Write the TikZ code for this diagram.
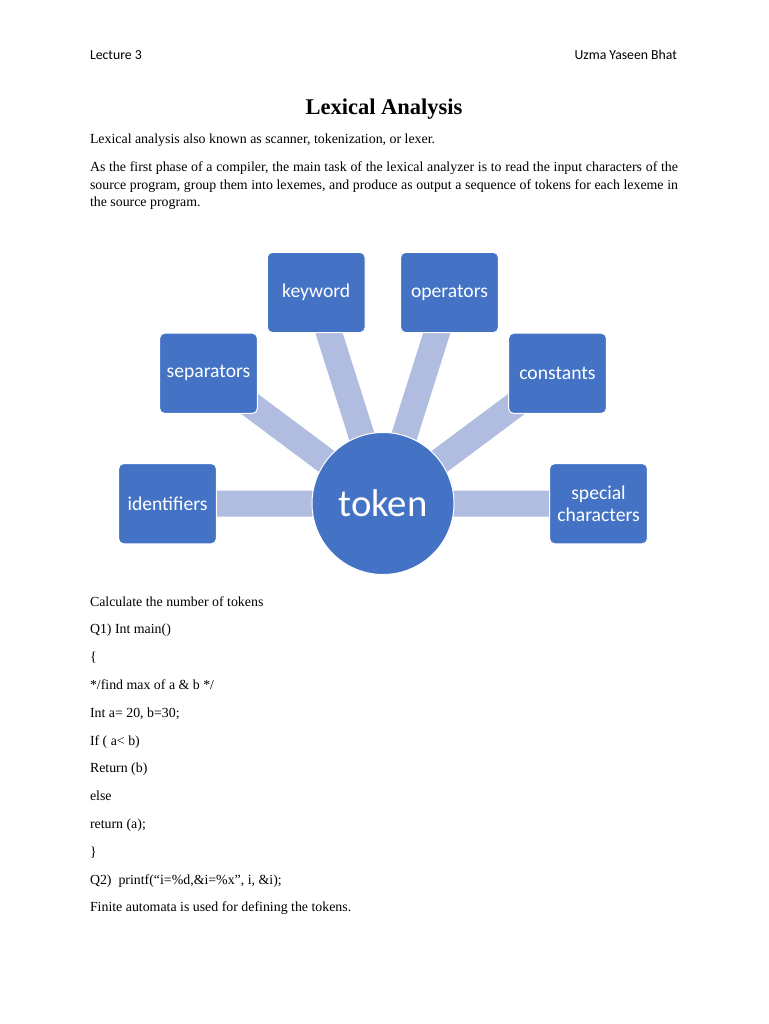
\documentclass[tikz,border=0pt]{standalone}
\usepackage{fontspec}
\setmainfont{Liberation Serif}
\newfontfamily\calib{Carlito}
\usetikzlibrary{backgrounds}
\definecolor{boxblue}{RGB}{68,114,196}
\definecolor{connblue}{RGB}{176,188,224}
\tikzset{
  txt/.style={inner sep=0pt, outer sep=0pt, font=\fontsize{11.1pt}{13pt}\selectfont},
  hdr/.style={inner sep=0pt, outer sep=0pt, font=\calib\fontsize{11pt}{13pt}\selectfont},
  catbox/.style={draw=white, line width=0.8pt, fill=boxblue, rounded corners=4pt,
    minimum width=78.2pt, minimum height=64.2pt, inner sep=1pt, text=white,
    font=\calib\fontsize{15.7pt}{17.6pt}\selectfont, align=center},
  hub/.style={circle, draw=white, line width=0.8pt, fill=boxblue, minimum size=113.6pt,
    inner sep=0pt, text=white, font=\calib\fontsize{31pt}{36pt}\selectfont},
  conn/.style={draw=connblue, line width=20.8pt, line cap=butt}
}
\begin{document}
\begin{tikzpicture}[x=0.8pt,y=-0.8pt]
\useasboundingbox (0,0) rectangle (768,1024);
% header
\node[hdr, anchor=base west] (h1) at (90,60) {Lecture 3};
\node[hdr, anchor=base east] (h2) at (677,60) {Uzma Yaseen Bhat};
% title
\node[inner sep=0pt, anchor=base, font=\bfseries\fontsize{18pt}{21pt}\selectfont] (title) at (384,115) {Lexical Analysis};
% intro
\node[txt, anchor=base west] (p1) at (90,144) {Lexical analysis also known as scanner, tokenization, or lexer.};
\node[txt, anchor=base west] (p2a) at (90,171.7) {\makebox[470.4pt][s]{As the first phase of a compiler, the main task of the lexical analyzer is to read the input characters of the}};
\node[txt, anchor=base west] (p2b) at (90,189.2) {\makebox[470.4pt][s]{source program, group them into lexemes, and produce as output a sequence of tokens for each lexeme in}};
\node[txt, anchor=base west] (p2c) at (90,206.7) {the source program.};
% diagram
\node[hub] (tok) at (383,503.5) {token};
\node[catbox] (kw) at (316.2,292.5) {keyword};
\node[catbox] (op) at (449.5,292.5) {operators};
\node[catbox] (sep) at (208.5,373.3) {separators};
\node[catbox] (con) at (557.5,373.3) {constants};
\node[catbox] (ide) at (167.5,503.7) {identifiers};
\node[catbox] (spc) at (598.5,503.7) {special\\characters};
\begin{pgfonlayer}{background}
\fill[white] (0,0) rectangle (768,1024);
\draw[conn] (tok.center) -- (kw.center);
\draw[conn] (tok.center) -- (op.center);
\draw[conn] (tok.center) -- (sep.center);
\draw[conn] (tok.center) -- (con.center);
\draw[conn] (tok.center) -- (ide.center);
\draw[conn] (tok.center) -- (spc.center);
\end{pgfonlayer}
% lower text
\node[txt, anchor=base west] (l1) at (90,606) {Calculate the number of tokens};
\node[txt, anchor=base west] (l2) at (90,633.8) {Q1) Int main()};
\node[txt, anchor=base west] (l3) at (90,661.6) {\{};
\node[txt, anchor=base west] (l4) at (90,689.4) {*/find max of a \& b */};
\node[txt, anchor=base west] (l5) at (90,717.2) {Int a= 20, b=30;};
\node[txt, anchor=base west] (l6) at (90,745) {If ( a< b)};
\node[txt, anchor=base west] (l7) at (90,772.8) {Return (b)};
\node[txt, anchor=base west] (l8) at (90,800.6) {else};
\node[txt, anchor=base west] (l9) at (90,828.4) {return (a);};
\node[txt, anchor=base west] (l10) at (90,856.2) {\}};
\node[txt, anchor=base west] (l11) at (90,884) {Q2)\ \ printf(“i=\%d,\&i=\%x”, i, \&i);};
\node[txt, anchor=base west] (l12) at (90,911.8) {Finite automata is used for defining the tokens.};
\end{tikzpicture}
\end{document}
